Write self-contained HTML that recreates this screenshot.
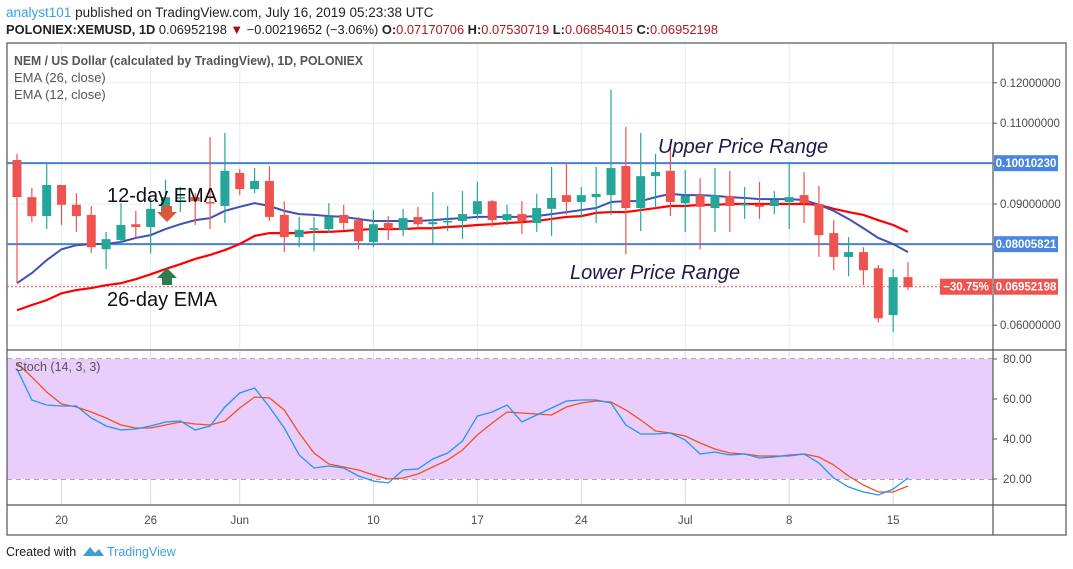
<!DOCTYPE html>
<html><head><meta charset="utf-8"><style>
body{margin:0;background:#fff;width:1073px;height:569px;overflow:hidden;font-family:"Liberation Sans",sans-serif}
svg{position:absolute;left:0;top:0}
</style></head><body>
<svg id="c" width="1073" height="569" xmlns="http://www.w3.org/2000/svg"></svg>
<script>
const dates=["May17","May18","May19","May20","May21","May22","May23","May24","May25","May26","May27","May28","May29","May30","May31","Jun1","Jun2","Jun3","Jun4","Jun5","Jun6","Jun7","Jun8","Jun9","Jun10","Jun11","Jun12","Jun13","Jun14","Jun15","Jun16","Jun17","Jun18","Jun19","Jun20","Jun21","Jun22","Jun23","Jun24","Jun25","Jun26","Jun27","Jun28","Jun29","Jun30","Jul1","Jul2","Jul3","Jul4","Jul5","Jul6","Jul7","Jul8","Jul9","Jul10","Jul11","Jul12","Jul13","Jul14","Jul15","Jul16"];
const opens=[.1009,.0917,.0870,.0947,.0898,.0873,.0788,.0811,.0850,.0843,.0880,.0915,.0917,.0905,.0895,.0977,.0937,.0957,.0873,.0818,.0838,.0838,.0873,.0860,.0806,.0853,.0836,.0868,.0850,.0855,.0858,.0875,.0907,.0860,.0875,.0853,.0888,.0922,.0905,.0917,.0922,.0994,.0890,.0969,.0982,.0902,.0922,.0890,.0920,.0898,.0898,.0895,.0905,.0922,.0900,.0828,.0769,.0781,.0741,.0625,.0719];
const highs=[.1024,.0940,.0999,.0947,.0927,.0895,.0831,.0902,.0883,.0915,.0960,.0942,.0927,.1066,.1076,.0987,.0989,.0994,.0907,.0868,.0868,.0902,.0898,.0868,.0885,.0870,.0888,.0893,.0930,.0895,.0932,.0955,.0910,.0898,.0907,.0925,.0992,.1002,.0942,.0992,.1183,.1091,.1076,.1024,.1046,.0984,.0964,.0989,.0982,.0942,.0955,.0932,.0999,.0979,.0945,.0860,.0818,.0793,.0749,.0739,.0756];
const lows=[.0704,.0855,.0838,.0848,.0831,.0779,.0739,.0803,.0818,.0778,.0873,.0880,.0848,.0838,.0853,.0922,.0927,.0858,.0781,.0793,.0783,.0828,.0836,.0788,.0793,.0811,.0821,.0840,.0798,.0833,.0813,.0863,.0843,.0848,.0826,.0831,.0821,.0873,.0865,.0853,.0873,.0776,.0833,.0890,.0870,.0831,.0788,.0831,.0831,.0863,.0863,.0875,.0838,.0853,.0769,.0736,.0721,.0699,.0607,.0583,.0687];
const closes=[.0917,.0870,.0947,.0898,.0870,.0793,.0813,.0848,.0843,.0888,.0917,.0917,.0907,.0902,.0982,.0937,.0957,.0868,.0818,.0836,.0840,.0868,.0853,.0808,.0850,.0838,.0865,.0850,.0855,.0858,.0875,.0907,.0860,.0875,.0858,.0890,.0915,.0905,.0922,.0925,.0989,.0890,.0969,.0979,.0905,.0920,.0893,.0922,.0895,.0900,.0893,.0910,.0917,.0902,.0823,.0769,.0781,.0736,.0617,.0719,.0694];
const ema12=[.0704,.0729,.0761,.0788,.0798,.0801,.0801,.0806,.0816,.0823,.0838,.0850,.0860,.0865,.0883,.0893,.0902,.0895,.0883,.0875,.0873,.0870,.0868,.0863,.0858,.0858,.0858,.0858,.0860,.0863,.0865,.0868,.0868,.0868,.0868,.0870,.0875,.0880,.0885,.0890,.0905,.0907,.0907,.0917,.0925,.0922,.0922,.0920,.0917,.0915,.0912,.0912,.0912,.0910,.0898,.0883,.0863,.0840,.0816,.0801,.0781];
const ema26=[.0637,.0650,.0662,.0679,.0687,.0692,.0699,.0704,.0714,.0726,.0739,.0751,.0764,.0774,.0786,.0801,.0821,.0828,.0828,.0828,.0831,.0831,.0833,.0836,.0838,.0838,.0838,.0840,.0840,.0843,.0845,.0848,.0850,.0853,.0855,.0858,.0863,.0868,.0870,.0878,.0880,.0880,.0885,.0890,.0895,.0895,.0898,.0898,.0900,.0900,.0900,.0900,.0900,.0900,.0898,.0888,.0880,.0873,.0860,.0848,.0831];
const stochK=[75,59.5,57,56.5,56.5,50.5,46.5,44.5,45,46.5,48.5,49,44.5,46.5,56,63,65.5,56,45.5,32,25.5,26.5,25.5,21.5,19,18,24.5,25,30,33,39,51.5,53.5,57,48.5,52,55.5,59,59.5,59.5,58,47,42.5,42.5,43,39.5,32.5,33.5,32,32.5,30.5,31,32,32.5,28,20.5,16,13.5,12,15,20.5];
const stochD=[78,71,63.5,57.5,56,53.5,50.5,47,45.5,45.5,47,48.5,47.5,47,49,55.5,61,60.5,54.5,43,33,27.5,26,24.5,22,20,20.5,22.5,26,29.5,34.5,42,48,53.5,53,52.5,52,56,58,59,58.5,54.5,49.5,44,43,41.5,38,35,33,32.5,31.5,31.5,31.5,32.5,31,27,21.5,17,13.5,13.5,16.5];
const priceTicks=[0.06,0.07,0.08,0.09,0.10,0.11,0.12];
const priceTickLabels=["0.06000000","","","0.09000000","","0.11000000","0.12000000"];
const stochTicks=[20,40,60,80];
const dateTickIdx=[3,9,15,24,31,38,45,52,59];
const dateTickLabels=["20","26","Jun","10","17","24","Jul","8","15"];
const upperLevel=0.10010230, lowerLevel=0.08005821, lastPrice=0.06952198;

const NS="http://www.w3.org/2000/svg", svg=document.getElementById('c');
function el(t,a,p){const e=document.createElementNS(NS,t);for(const k in a)e.setAttribute(k,a[k]);(p||svg).appendChild(e);return e;}
const L=7,R=993;
const xS=i=>17+i*14.85;
const yP=v=>204-(v-0.09)*4040;
const yS=v=>519-2*v;

let g=el('g',{});

priceTicks.forEach(v=>el('line',{x1:L,x2:R,y1:yP(v),y2:yP(v),stroke:'#e3ecf4','stroke-width':1},g));
dateTickIdx.forEach(i=>{el('line',{x1:xS(i),x2:xS(i),y1:43,y2:350,stroke:'#e3ecf4'},g);});
let band=el('rect',{x:L,y:yS(80),width:R-L,height:yS(20)-yS(80),fill:'#e9cdfc'});

dateTickIdx.forEach(i=>el('line',{x1:xS(i),x2:xS(i),y1:352,y2:505,stroke:'#dad6f2'},g));
stochTicks.forEach(v=>el('line',{x1:L,x2:R,y1:yS(v),y2:yS(v),stroke:(v==20||v==80)?'#555':'#d8c0ee','stroke-dasharray':(v==20||v==80)?'5,4':'none'},g));
el('rect',{x:L,y:43,width:1059,height:492,fill:'none',stroke:'#555','stroke-width':1.2});
el('line',{x1:R,x2:R,y1:43,y2:535,stroke:'#555','stroke-width':1.2});
el('line',{x1:L,x2:1066,y1:350,y2:350,stroke:'#555','stroke-width':1.2});
el('line',{x1:L,x2:1066,y1:505,y2:505,stroke:'#555','stroke-width':1.2});

[upperLevel,lowerLevel].forEach((v,k)=>{const ln=el('line',{x1:L,x2:R,y1:yP(v),y2:yP(v),stroke:'#4a7fe0','stroke-width':2});
});
let lp=el('line',{x1:L,x2:R,y1:yP(lastPrice),y2:yP(lastPrice),stroke:'#ef5350','stroke-dasharray':'2,2'});


function poly(arr,sc,col,w,name){const p=el('polyline',{points:arr.map((v,i)=>xS(i)+','+sc(v)).join(' '),fill:'none',stroke:col,'stroke-width':w});
}
poly(ema26,yP,'#ff0000',2.2,'ema-26-line');
poly(ema12,yP,'#3f51b5',2,'ema-12-line');

dates.forEach((d,i)=>{const up=closes[i]>=opens[i],c=up?'#26a69a':'#ef5350',x=xS(i);
const cg=el('g',{});
el('line',{x1:x,x2:x,y1:yP(highs[i]),y2:yP(lows[i]),stroke:c,'stroke-width':1.2},cg);
const t=yP(Math.max(opens[i],closes[i])),b=yP(Math.min(opens[i],closes[i]));
el('rect',{x:x-4.5,y:t,width:9,height:Math.max(1.5,b-t),fill:c},cg);});

poly(stochD,yS,'#f4511e',1.3,'stoch-d-line');
poly(stochK,yS,'#2196f3',1.3,'stoch-k-line');

function tx(s,x,y,a,name,inter){const t=el('text',Object.assign({x:x,y:y},a));t.textContent=s;return t;}
priceTicks.forEach((v,k)=>{if(priceTickLabels[k])tx(priceTickLabels[k],1000,yP(v)+4,{'font-size':11.5,fill:'#4a4a4a'},'price-tick-label');
el('line',{x1:R,x2:R+4,y1:yP(v),y2:yP(v),stroke:'#555'});});
stochTicks.forEach(v=>{tx(v.toFixed(2),1003,yS(v)+4,{'font-size':11.5,fill:'#4a4a4a'},'stoch-tick-label');el('line',{x1:R,x2:R+4,y1:yS(v),y2:yS(v),stroke:'#555'});});
dateTickIdx.forEach((i,k)=>tx(dateTickLabels[k],xS(i),524,{'font-size':11.5,fill:'#4a4a4a','text-anchor':'middle'},'date-tick-label'));
function badge(x,y,w,col,s,name){const r=el('rect',{x:x,y:y-8,width:w,height:16,fill:col});
tx(s,x+w/2,y+4,{'font-size':11.5,fill:'#fff','font-weight':'bold','text-anchor':'middle'},name+'-text');}
badge(994,yP(upperLevel),64,'#4a86e0','0.10010230','upper-level-badge');
badge(994,yP(lowerLevel),64,'#4a86e0','0.08005821','lower-level-badge');
badge(994,yP(lastPrice),64,'#ef5350','0.06952198','last-price-badge');
badge(940,yP(lastPrice),52,'#ef5350','−30.75%','change-badge');

let h=tx('',6,17,{'font-size':13.5,fill:'#222'},'publish-info');
h.innerHTML='<tspan fill="#3ba0d8">analyst101</tspan> published on TradingView.com, July 16, 2019 05:23:38 UTC';
let h2=tx('',6,34,{'font-size':12.8,fill:'#222','textLength':712,'lengthAdjust':'spacingAndGlyphs'},'symbol-info');
h2.innerHTML='<tspan font-weight="bold">POLONIEX:XEMUSD, 1D</tspan> 0.06952198 <tspan fill="#a01010">▼</tspan> −0.00219652 (−3.06%) <tspan font-weight="bold">O:</tspan><tspan fill="#b0161a">0.07170706</tspan> <tspan font-weight="bold">H:</tspan><tspan fill="#b0161a">0.07530719</tspan> <tspan font-weight="bold">L:</tspan><tspan fill="#b0161a">0.06854015</tspan> <tspan font-weight="bold">C:</tspan><tspan fill="#b0161a">0.06952198</tspan>';
tx('NEM / US Dollar (calculated by TradingView), 1D, POLONIEX',14,65,{'font-size':12.5,fill:'#555','font-weight':'bold','textLength':349,'lengthAdjust':'spacingAndGlyphs'},'series-title');
tx('EMA (26, close)',14,82,{'font-size':13,fill:'#555'},'ema26-legend');
tx('EMA (12, close)',14,99,{'font-size':13,fill:'#555'},'ema12-legend');
tx('Stoch (14, 3, 3)',15,371,{'font-size':12.5,fill:'#555'},'stoch-legend');

tx('12-day EMA',107,202,{'font-size':20,fill:'#111'},'ema12-annotation');
tx('26-day EMA',107,306,{'font-size':20,fill:'#111'},'ema26-annotation');
tx('Upper Price Range',658,153,{'font-size':20,fill:'#1e1a4a','font-style':'italic'},'upper-range-label');
tx('Lower Price Range',570,279,{'font-size':20,fill:'#1e1a4a','font-style':'italic'},'lower-range-label');
let a1=el('polygon',{points:'162,206 172,206 172,212 177,212 167,222 157,212 162,212',fill:'#d9573b'});

let a2=el('polygon',{points:'167,268 177,278 172,278 172,285 162,285 162,278 157,278',fill:'#2e7d4f'});


tx('Created with',6,556,{'font-size':12.5,fill:'#222'},'footer-text');
let lg=el('path',{d:'M83 556 L90 547 L95 553 L99 549 L104 556 Z',fill:'#3ba0d8'});
tx('TradingView',107,556,{'font-size':12.5,fill:'#3ba0d8'},'tradingview-link',true);
</script>
</body></html>
